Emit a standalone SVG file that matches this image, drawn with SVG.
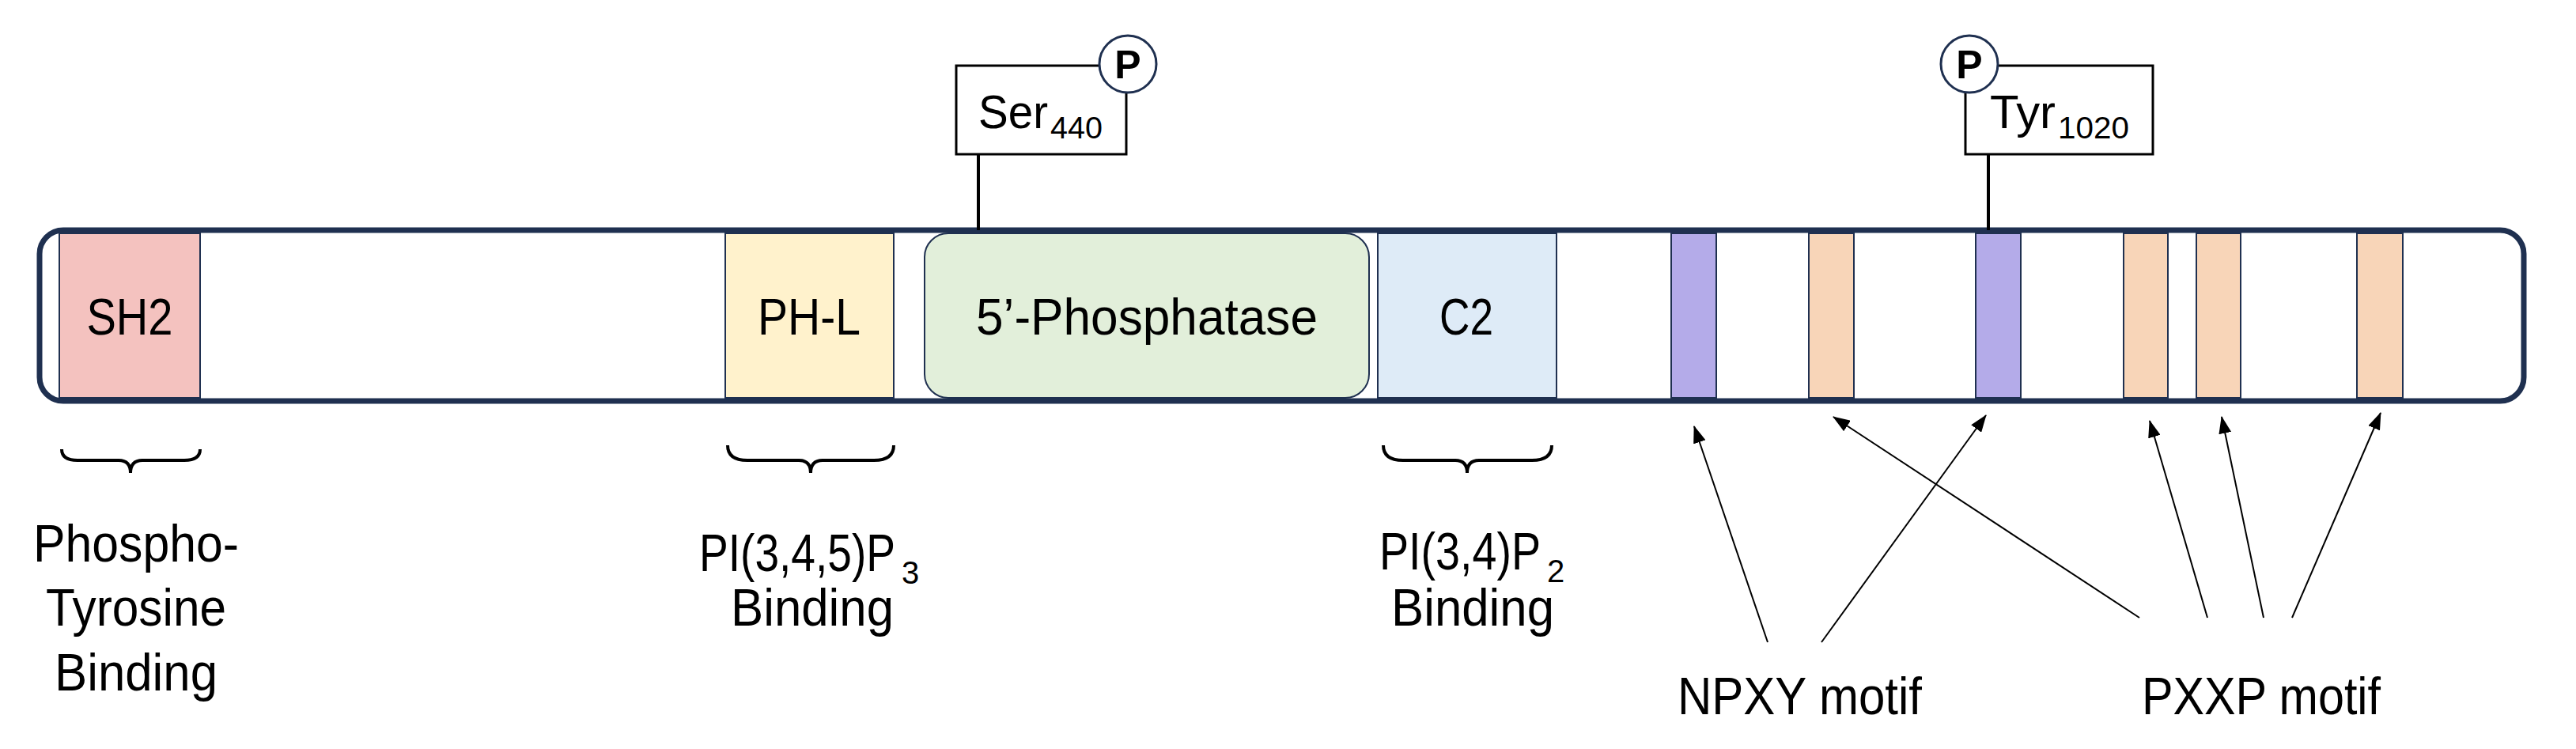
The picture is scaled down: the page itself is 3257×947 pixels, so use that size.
<svg xmlns="http://www.w3.org/2000/svg" width="3257" height="947" viewBox="0 0 3257 947">
<style>
text{font-family:"Liberation Sans","Open Sans",sans-serif;fill:#000}
.lbl{font-size:66px}
.dt{font-size:64px}
.dom{stroke:#1f3050;stroke-width:2}
.br{fill:none;stroke:#000;stroke-width:4}
.ar{stroke:#000;stroke-width:2;fill:none;marker-end:url(#ah)}
</style>
<defs><marker id="ah" markerWidth="22" markerHeight="16" refX="21" refY="8" orient="auto" markerUnits="userSpaceOnUse" viewBox="0 0 22 16"><path d="M0,0 L22,8 L0,16 z" fill="#000"/></marker></defs>
<rect width="3257" height="947" fill="#fff"/>
<g id="bar"><rect x="50" y="291" width="3141" height="216" rx="30" fill="#fff"/></g>
<g id="sh2"><rect class="dom" x="75" y="295" width="178" height="208" fill="#f4c2bf"/><text class="dt" x="164" y="423" text-anchor="middle" textLength="109" lengthAdjust="spacingAndGlyphs">SH2</text></g>
<g id="phl"><rect class="dom" x="917" y="295" width="213" height="208" fill="#fff2cc"/><text class="dt" x="1023" y="423" text-anchor="middle" textLength="130" lengthAdjust="spacingAndGlyphs">PH-L</text></g>
<g id="phosphatase"><rect class="dom" x="1169" y="295" width="562" height="208" rx="30" fill="#e2efda"/><text class="dt" x="1450" y="423" text-anchor="middle" textLength="432" lengthAdjust="spacingAndGlyphs">5’-Phosphatase</text></g>
<g id="c2"><rect class="dom" x="1742" y="295" width="226" height="208" fill="#deebf7"/><text class="dt" x="1854" y="423" text-anchor="middle" textLength="68" lengthAdjust="spacingAndGlyphs">C2</text></g>
<g id="motifs" class="dom">
<rect x="2113" y="295" width="57" height="208" fill="#b4abe9"/>
<rect x="2287" y="295" width="57" height="208" fill="#f8d5b8"/>
<rect x="2498" y="295" width="57" height="208" fill="#b4abe9"/>
<rect x="2685" y="295" width="56" height="208" fill="#f8d5b8"/>
<rect x="2777" y="295" width="56" height="208" fill="#f8d5b8"/>
<rect x="2980" y="295" width="58" height="208" fill="#f8d5b8"/>
</g>
<rect x="50" y="291" width="3141" height="216" rx="30" fill="none" stroke="#1f3050" stroke-width="7"/>
<g id="ser440">
<line x1="1237" y1="195" x2="1237" y2="291" stroke="#000" stroke-width="4"/>
<rect x="1209" y="83" width="215" height="112" fill="#fff" stroke="#000" stroke-width="3"/>
<text x="1237" y="162" font-size="60" textLength="88" lengthAdjust="spacingAndGlyphs">Ser</text>
<text x="1328" y="175" font-size="38" textLength="66" lengthAdjust="spacingAndGlyphs">440</text>
<circle cx="1426" cy="81" r="36" fill="#fff" stroke="#1f3050" stroke-width="3"/>
<text x="1426" y="99" font-size="50" font-weight="bold" text-anchor="middle">P</text>
</g>
<g id="tyr1020">
<line x1="2514" y1="195" x2="2514" y2="291" stroke="#000" stroke-width="4"/>
<rect x="2485" y="83" width="237" height="112" fill="#fff" stroke="#000" stroke-width="3"/>
<text x="2516" y="162" font-size="60" textLength="83" lengthAdjust="spacingAndGlyphs">Tyr</text>
<text x="2602" y="175" font-size="38" textLength="90" lengthAdjust="spacingAndGlyphs">1020</text>
<circle cx="2490" cy="81" r="36" fill="#fff" stroke="#1f3050" stroke-width="3"/>
<text x="2490" y="99" font-size="50" font-weight="bold" text-anchor="middle">P</text>
</g>
<g id="braces">
<path class="br" d="M78,568 Q78,582 98,582 L150,582 Q165,582 165,598 Q165,582 180,582 L233,582 Q253,582 253,568"/>
<path class="br" d="M920,563 Q920,582 945,582 L1010,582 Q1025,582 1025,598 Q1025,582 1040,582 L1105,582 Q1130,582 1130,563"/>
<path class="br" d="M1749,563 Q1749,582 1774,582 L1840,582 Q1855,582 1855,598 Q1855,582 1870,582 L1937,582 Q1962,582 1962,563"/>
</g>
<g id="labels" class="lbl">
<text x="172" y="710" text-anchor="middle" textLength="260" lengthAdjust="spacingAndGlyphs">Phospho-</text>
<text x="172" y="791" text-anchor="middle" textLength="228" lengthAdjust="spacingAndGlyphs">Tyrosine</text>
<text x="172" y="873" text-anchor="middle" textLength="206" lengthAdjust="spacingAndGlyphs">Binding</text>
<text x="884" y="722" textLength="248" lengthAdjust="spacingAndGlyphs">PI(3,4,5)P</text><text x="1140" y="738" font-size="40">3</text>
<text x="1027" y="791" text-anchor="middle" textLength="206" lengthAdjust="spacingAndGlyphs">Binding</text>
<text x="1744" y="720" textLength="204" lengthAdjust="spacingAndGlyphs">PI(3,4)P</text><text x="1956" y="736" font-size="40">2</text>
<text x="1862" y="791" text-anchor="middle" textLength="206" lengthAdjust="spacingAndGlyphs">Binding</text>
<text x="2121" y="903" textLength="309" lengthAdjust="spacingAndGlyphs">NPXY motif</text>
<text x="2708" y="903" textLength="302" lengthAdjust="spacingAndGlyphs">PXXP motif</text>
</g>
<g id="connectors">
<line class="ar" x1="2235" y1="812" x2="2142" y2="539"/>
<line class="ar" x1="2303" y1="812" x2="2511" y2="525"/>
<line class="ar" x1="2705" y1="781" x2="2318" y2="527"/>
<line class="ar" x1="2791" y1="781" x2="2718" y2="532"/>
<line class="ar" x1="2862" y1="781" x2="2809" y2="527"/>
<line class="ar" x1="2898" y1="781" x2="3010" y2="522"/>
</g>
</svg>
